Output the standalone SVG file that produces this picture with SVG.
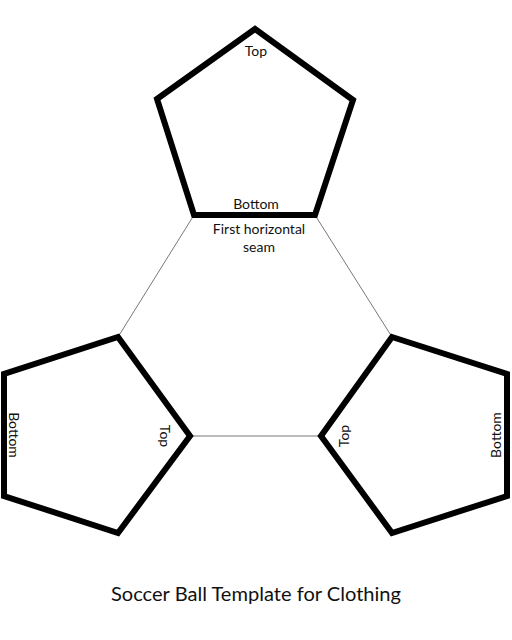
<svg xmlns="http://www.w3.org/2000/svg" width="512" height="640" viewBox="0 0 512 640">
<style>
.pent{fill:none;stroke:#000;stroke-width:6;stroke-linejoin:miter}
.seam{stroke:#555;stroke-width:0.8;fill:none}
text{font-family:Lato,"Open Sans","Liberation Sans",sans-serif;fill:#111;font-size:14px;text-anchor:middle}
.title{font-size:19.5px}
</style>
<rect width="512" height="640" fill="#fff"/>
<g id="connectors">
<line class="seam" x1="194" y1="215" x2="118" y2="337"/>
<line class="seam" x1="315" y1="215" x2="392" y2="337"/>
<line class="seam" x1="190" y1="436" x2="321" y2="436"/>
</g>
<g id="top-pentagon">
<polygon class="pent" points="255,29 353,100 315,215 194,215 157,99"/>
<text x="256" y="56">Top</text>
<text x="256" y="209">Bottom</text>
<text x="259" y="234">First horizontal</text>
<text x="259" y="252">seam</text>
</g>
<g id="left-pentagon">
<polygon class="pent" points="118,337 190,436 118,533 4,496 4,374"/>
<text transform="translate(160,436) rotate(90)">Top</text>
<text transform="translate(9,435) rotate(90)">Bottom</text>
</g>
<g id="right-pentagon">
<polygon class="pent" points="392,337 507,374 507,496 392,533 321,436"/>
<text transform="translate(349,436) rotate(-90)">Top</text>
<text transform="translate(501,435) rotate(-90)">Bottom</text>
</g>
<text class="title" x="256" y="601" textLength="290" lengthAdjust="spacingAndGlyphs">Soccer Ball Template for Clothing</text>
</svg>
